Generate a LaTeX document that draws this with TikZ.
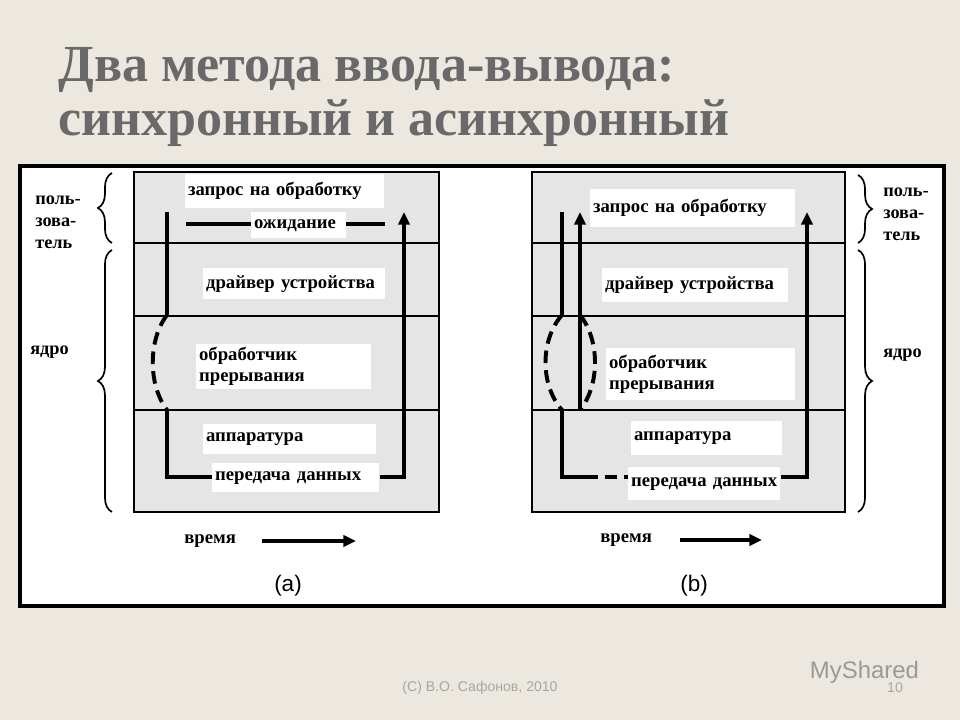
\documentclass[tikz,border=0pt]{standalone}
\usepackage{fontspec}
\setmainfont{Liberation Serif}
\newfontfamily\sansf{Liberation Sans}
\usetikzlibrary{decorations.pathreplacing,arrows.meta}
\newlength\px \setlength\px{0.7087pt}
\definecolor{bgc}{RGB}{236,232,224}
\definecolor{titlec}{RGB}{105,105,105}
\definecolor{layer}{RGB}{229,229,229}
\tikzset{
 lbl/.style={fill=white,font=\bfseries\fontsize{13.3}{15}\selectfont,anchor=north west,inner sep=2pt,align=left},
 flow/.style={line width=2.8pt},
 dflow/.style={line width=2.8pt,dash pattern=on 9pt off 5pt},
 arr/.style={line width=2.8pt,-{Triangle[length=9pt,width=8pt]}},
 side/.style={font=\bfseries\fontsize{13}{15.5}\selectfont,anchor=north west,align=left,inner sep=0pt},
 brace/.style={decorate,line width=1.2pt},
}
\begin{document}
\begin{tikzpicture}[x=0.025cm,y=-0.025cm]
\fill[bgc] (0,0) rectangle (960,720);
\node[anchor=west,text=titlec,font=\bfseries\fontsize{37}{40}\selectfont,inner sep=0] (t1) at (58,70) {Два метода ввода-вывода:};
\node[anchor=west,text=titlec,font=\bfseries\fontsize{37}{40}\selectfont,inner sep=0] (t2) at (58,123) {синхронный и асинхронный};
\draw[fill=white,line width=2.2pt] (20,166) rectangle (944,606);
% left panel
\draw[fill=layer,line width=1.4pt] (134,172) rectangle (439,512);
\foreach \y in {243,316,410} \draw[line width=1.4pt] (134,\y) -- (439,\y);
\node[lbl,text width=194\px,minimum height=34\px] (a1) at (185,174) {запрос на обработку};
\node[lbl,text width=89\px,minimum height=26\px] (a2) at (251,212) {ожидание};
\node[lbl,text width=177\px,minimum height=31\px] (a3) at (203,268) {драйвер устройства};
\node[lbl,text width=170\px,minimum height=45\px] (a4) at (196,344) {обработчик\\прерывания};
\node[lbl,text width=168\px,minimum height=30\px] (a5) at (203,424) {аппаратура};
\node[lbl,text width=162\px,minimum height=29\px] (a6) at (212,463) {передача данных};
\coordinate (la) at (167,212); \coordinate (lb) at (167,315);
\coordinate (lc) at (167,410); \coordinate (ld) at (167,477);
\coordinate (le) at (404,477); \coordinate (lf) at (404,212);
\draw[flow] (186,224) -- (a2.west |- 0,224);
\draw[flow] (a2.east |- 0,224) -- (385,224);
\draw[flow] (la) -- (lb);
\draw[dflow] (lb) .. controls (148,340) and (148,385) .. (lc);
\draw[flow] (lc) -- (ld) -- (a6.west |- ld);
\draw[arr] (a6.east |- le) -- (le) -- (lf);
\draw[brace,decoration={brace,amplitude=10pt}] (112,243) -- (112,173);
\draw[brace,decoration={brace,amplitude=10pt}] (112,512) -- (112,250);
\node[side] (u1) at (35,196) {поль-\\зова-\\тель};
\node[side] (k1) at (30,346) {ядро};
\node[font=\bfseries\fontsize{13.3}{15}\selectfont,anchor=west,inner sep=0] (tm1) at (184,541) {время};
\coordinate (ta1) at (262,541); \coordinate (tb1) at (356,541);
\draw[arr,line width=2.4pt] (ta1) -- (tb1);
\node[font=\sansf\fontsize{16}{18}\selectfont] (ca) at (288,586) {(a)};
% right panel
\draw[fill=layer,line width=1.4pt] (532,172) rectangle (845,512);
\foreach \y in {243,316,410} \draw[line width=1.4pt] (532,\y) -- (845,\y);
\node[lbl,text width=200\px,minimum height=38\px] (b1) at (590,189) {запрос на обработку};
\node[lbl,text width=181\px,minimum height=34\px] (b3) at (602,268) {драйвер устройства};
\node[lbl,text width=184\px,minimum height=52\px] (b4) at (606,348) {обработчик\\прерывания};
\node[lbl,text width=146\px,minimum height=34\px] (b5) at (631,421) {аппаратура};
\node[lbl,text width=147\px,minimum height=33\px] (b6) at (628,467) {передача данных};
\coordinate (ra) at (562,212); \coordinate (rb) at (562,315);
\coordinate (rc) at (562,410); \coordinate (rd) at (562,477);
\coordinate (rA) at (580,212); \coordinate (rB) at (580,315);
\coordinate (rC) at (580,410); \coordinate (rD) at (580,477);
\coordinate (re) at (807,477); \coordinate (rf) at (807,212);
\draw[flow] (ra) -- (rb);
\draw[dflow] (rb) .. controls (540,340) and (540,385) .. (rc);
\draw[dflow] (rB) .. controls (600,340) and (600,385) .. (rC);
\draw[flow] (rc) -- (rd) -- (585,477);
\draw[arr] (rC) -- (rA);
\draw[dflow] (585,477) -- (b6.west |- rd);
\draw[arr] (b6.east |- re) -- (re) -- (rf);
\draw[brace,decoration={brace,amplitude=10pt}] (858,175) -- (858,243);
\draw[brace,decoration={brace,amplitude=10pt}] (858,250) -- (858,512);
\node[side] (u2) at (883,188) {поль-\\зова-\\тель};
\node[side] (k2) at (883,349) {ядро};
\node[font=\bfseries\fontsize{13.3}{15}\selectfont,anchor=west,inner sep=0] (tm2) at (600,540) {время};
\coordinate (ta2) at (680,540); \coordinate (tb2) at (762,540);
\draw[arr,line width=2.4pt] (ta2) -- (tb2);
\node[font=\sansf\fontsize{16}{18}\selectfont] (cb) at (694,586) {(b)};
% footer
\node[font=\sansf\fontsize{10}{12}\selectfont,text=gray!70] (ft) at (480,688) {(C) В.О. Сафонов, 2010};
\node[font=\sansf\fontsize{10}{12}\selectfont,text=gray!70] (pg) at (895,688) {10};
\node[font=\sansf\fontsize{17}{19}\selectfont,text=gray!80,anchor=west] (ms) at (805,672) {MyShared};
\end{tikzpicture}
\end{document}
